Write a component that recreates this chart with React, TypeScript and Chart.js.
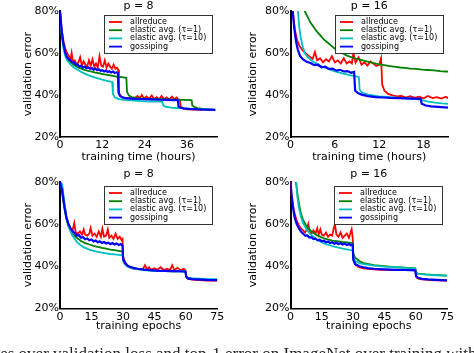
import React, { useEffect, useRef } from 'react';
import { Chart, registerables } from 'chart.js';

Chart.register(...registerables);

const FONT_FAMILY = '"DejaVu Sans", "Bitstream Vera Sans", sans-serif';

const seriesLabels = ['allreduce', 'elastic avg. (τ=1)', 'elastic avg. (τ=10)', 'gossiping'];
const seriesColors = ['#ff0000', '#008000', '#00bfbf', '#0000ff'];
const seriesWidths = [1.8, 1.8, 1.8, 2.2];
const yAxisTitle = 'validation error';

// ---------- top-left: p = 8, training time (hours) ----------
const tlRedX = [0, 0.5, 1, 1.5, 2, 2.5, 3, 3.3, 3.7, 4.2, 4.7, 5.2, 5.7, 6.2, 6.7, 7.2, 7.7, 8.2, 8.7, 9.2, 9.7, 10.2, 10.7, 11.2, 11.7, 12.2, 12.7, 13.2, 13.7, 14.2, 14.7, 15.2, 15.7, 16.2, 16.5, 16.7, 17.2, 18, 19, 20, 21, 22, 22.6, 23.2, 23.8, 24.5, 25.2, 26, 26.7, 27.4, 28.1, 28.8, 29.5, 30.2, 31, 31.7, 32.4, 33, 33.6, 34, 34.2, 35, 36, 38, 40, 42, 44];
const tlRedY = [80, 71, 65.5, 62, 60, 58.5, 57, 60, 55.5, 56.5, 54.5, 55.5, 58, 54, 56, 54.5, 53.5, 56.5, 54, 57, 53.5, 55, 53, 58.5, 54, 53.5, 56.5, 53, 55, 53.5, 52.5, 54.5, 52.5, 53, 52, 41, 39.5, 38.8, 38.5, 38.6, 38.3, 39.5, 38.3, 40, 38.2, 39.3, 38.2, 39.8, 38, 39, 38, 39.5, 38, 38.9, 37.9, 39.2, 37.9, 38.8, 37.8, 37.6, 34.5, 33.5, 33.2, 33, 32.9, 32.9, 32.8];
const tlGreenX = [0, 0.5, 1, 1.5, 2, 3, 4, 5, 6, 7, 8, 9, 10, 11, 12, 13, 14, 15, 16, 17, 18, 18.8, 19, 19.5, 20.3, 21.5, 23, 25, 27, 29, 31, 33, 35, 37.3, 37.5, 38.2, 39, 40.5, 42, 44];
const tlGreenY = [80, 69, 63, 59.5, 57.5, 55.5, 54.3, 53.3, 52.6, 52, 51.5, 51.1, 50.7, 50.4, 50, 49.7, 49.4, 49.1, 48.8, 48.6, 48.4, 48.2, 41.5, 39.8, 39, 38.6, 38.4, 38.2, 38.1, 38, 37.9, 37.8, 37.7, 37.6, 35, 34.2, 33.8, 33.4, 33.1, 32.9];
const tlCyanX = [0, 0.5, 1, 1.5, 2, 3, 4, 5, 6, 7, 8, 9, 10, 11, 12, 13, 14, 14.8, 15, 15.6, 16.5, 18, 20, 22, 24, 26, 28, 29, 29.3, 30, 31.5, 33, 35, 37, 40, 42, 44];
const tlCyanY = [80, 68, 62, 58.5, 56.5, 54.5, 53, 52, 51, 50.2, 49.5, 48.9, 48.3, 47.8, 47.3, 46.9, 46.5, 46.2, 40.5, 38.8, 38.2, 37.7, 37.4, 37.2, 37, 36.9, 36.8, 36.7, 35, 34.4, 34, 33.8, 33.6, 33.4, 33.2, 33.1, 33];
const tlBlueX = [0, 0.5, 1, 1.5, 2, 2.5, 3, 3.5, 4, 4.5, 5, 5.5, 6, 6.5, 7, 7.5, 8, 8.5, 9, 9.5, 10, 10.5, 11, 11.5, 12, 12.5, 13, 13.5, 14, 14.5, 15, 15.5, 16, 16.4, 16.6, 17, 17.6, 18.5, 20, 22, 24, 26, 28, 30, 32, 33.4, 33.6, 34.2, 35, 36.5, 38, 40, 42, 44];
const tlBlueY = [80, 70, 64, 60, 58, 57, 56.5, 55.5, 55.5, 54.5, 54.5, 53.5, 54, 53, 53.5, 52.8, 53.2, 52.5, 52.8, 52, 52.6, 51.8, 52.2, 51.5, 51.8, 51.2, 51.6, 51, 51.3, 50.7, 51.2, 50.5, 50.8, 50.5, 41, 39.6, 38.9, 38.5, 38.3, 38.1, 38, 37.9, 37.8, 37.7, 37.6, 37.5, 34.5, 33.9, 33.6, 33.4, 33.3, 33.1, 33, 32.9];

// ---------- top-right: p = 16, training time (hours) ----------
const trRedX = [0.3, 0.6, 0.9, 1.2, 1.6, 2, 2.5, 3, 3.3, 3.6, 4, 4.4, 4.8, 5.2, 5.6, 6, 6.4, 6.8, 7.2, 7.6, 8, 8.3, 8.5, 8.8, 9.2, 9.6, 10, 10.4, 10.8, 11.2, 11.6, 12, 12.25, 12.4, 12.7, 13.2, 13.8, 14.4, 15, 15.6, 16.2, 16.8, 17.4, 18, 18.6, 19.2, 19.8, 20.4, 21, 21.3];
const trRedY = [80, 71, 66, 63.5, 61.5, 60, 58.5, 57.2, 60.5, 56.5, 57.5, 55.5, 57, 56, 58.5, 55.5, 56.5, 55, 57.5, 55, 56, 55, 60, 55.5, 58, 54.5, 55.5, 54, 56, 55, 53.8, 54.5, 57.5, 45, 42, 40.5, 39.8, 39.3, 39.6, 38.8, 39.4, 38.6, 39.2, 38.4, 39.5, 38.5, 39, 38.3, 39.2, 38.5];
const trGreenX = [1.9, 2.3, 2.7, 3.1, 3.5, 4, 4.5, 5, 5.5, 6, 6.5, 7, 7.5, 8, 8.7, 9.4, 10, 10.7, 11.4, 12, 12.7, 13.4, 14, 14.8, 15.5, 16.2, 17, 17.8, 18.6, 19.4, 20.2, 21, 21.3];
const trGreenY = [80, 77.3, 74.5, 72.5, 70.5, 68.5, 66.5, 65, 63.5, 62, 61, 60, 59, 58.3, 57.5, 56.8, 56.2, 55.6, 55.1, 54.6, 54.2, 53.8, 53.5, 53.1, 52.9, 52.6, 52.4, 52.1, 51.9, 51.7, 51.4, 51.2, 51.1];
const trCyanX = [1.0, 1.2, 1.4, 1.7, 2, 2.5, 3, 4, 5, 6, 7, 8, 9, 9.25, 9.35, 9.7, 10.5, 12, 14, 16, 17.5, 18.5, 19.5, 20.5, 21.3];
const trCyanY = [80, 72, 67, 62.5, 59.5, 57.5, 56, 54, 52.5, 51.3, 50.3, 49.5, 48.8, 48.5, 42.5, 41, 40.2, 39.3, 38.8, 38.4, 37.8, 37, 36.4, 36, 35.8];
const trBlueX = [0.3, 0.5, 0.75, 1, 1.3, 1.7, 2.2, 2.7, 3.2, 3.7, 4.2, 4.7, 5.2, 5.7, 6.2, 6.7, 7.2, 7.7, 8.2, 8.6, 8.75, 9.1, 9.6, 10.5, 11.5, 12.5, 13.5, 14.5, 15.5, 16.5, 17.6, 17.75, 18.3, 19, 20, 21.3];
const trBlueY = [80, 72, 65.5, 61.5, 58.5, 57, 55.8, 55.2, 54.2, 54.4, 53.2, 53.5, 52.4, 52.6, 51.6, 52, 51.2, 51.4, 50.6, 51, 42, 41, 40.2, 39.5, 39, 38.8, 38.6, 38.5, 38.4, 38.3, 38.2, 35.8, 35, 34.6, 34.3, 34];

// ---------- bottom-left: p = 8, training epochs ----------
const blRedX = [0, 1, 2, 3, 4, 5, 6, 6.8, 7.5, 8.5, 9.5, 10.5, 11.3, 12, 13, 14, 14.6, 15.5, 16.5, 17.5, 18.5, 19.5, 20.2, 21, 22, 22.8, 23.5, 24.5, 25.5, 26.5, 27.5, 28.5, 29.3, 29.8, 30.1, 31, 32, 33, 34.5, 36, 38, 39.5, 40.5, 41.5, 42.5, 43.5, 45, 46.5, 48, 49.5, 51, 52.5, 53.5, 54.5, 56, 57.5, 59, 59.8, 60.2, 61, 63, 66, 70, 75];
const blRedY = [80, 78, 70, 63.5, 60, 58, 57, 60.5, 56, 55.5, 56.5, 55, 57.5, 55, 54.5, 55.5, 58.2, 54.5, 55.5, 54, 56.5, 54, 57.8, 54, 54.5, 57.5, 53.5, 54.5, 53, 55.5, 53, 54, 52.5, 53, 44.5, 42, 40.5, 39.5, 39, 38.8, 38.6, 38.5, 40.5, 38.5, 39.5, 38.3, 39, 38.3, 39.5, 38.2, 38.8, 38.2, 40.5, 38.2, 39.2, 38.1, 38.8, 38, 35, 34, 33.6, 33.4, 33.2, 33.2];
const blGreenX = [0, 1, 2, 3, 4, 5, 6, 8, 10, 12, 14, 16, 18, 20, 22, 24, 26, 28, 29.8, 30.1, 31, 32, 33, 35, 37, 40, 43, 46, 50, 54, 57, 59.8, 60.2, 61, 63, 66, 70, 75];
const blGreenY = [80, 75, 68, 62.5, 59, 57, 55.5, 53.5, 52, 51, 50.3, 49.7, 49.2, 48.7, 48.3, 47.9, 47.6, 47.3, 47, 43, 41.3, 40.3, 39.7, 39.1, 38.7, 38.3, 38, 37.8, 37.7, 37.6, 37.5, 37.4, 35, 34.2, 33.9, 33.7, 33.5, 33.4];
const blCyanX = [0, 1, 2, 3, 4, 5, 6, 8, 10, 12, 14, 16, 18, 20, 22, 24, 26, 28, 29.8, 30.1, 31, 32, 33, 35, 37, 40, 43, 46, 50, 54, 57, 59.8, 60.2, 61, 63, 66, 70, 75];
const blCyanY = [80, 79, 71, 64, 59.5, 56.5, 54.5, 51.5, 49.8, 48.7, 47.9, 47.3, 46.8, 46.4, 46.1, 45.8, 45.6, 45.4, 45.2, 42.5, 40.8, 39.9, 39.4, 38.9, 38.5, 38.1, 37.9, 37.8, 37.7, 37.6, 37.6, 37.5, 35.3, 34.6, 34.3, 34.1, 33.9, 33.8];
const blBlueX = [0, 1, 2, 3, 4, 5, 6, 7, 8, 9, 10, 11, 12, 13, 14, 15, 16, 17, 18, 19, 20, 21, 22, 23, 24, 25, 26, 27, 28, 29, 29.8, 30.1, 31, 32, 33, 35, 37, 40, 43, 46, 50, 54, 57, 59.8, 60.2, 61, 63, 66, 70, 75];
const blBlueY = [80, 76, 69, 63.5, 60, 58, 56.5, 55.8, 54.5, 54.8, 53.5, 53.8, 52.8, 53.2, 52.3, 52.7, 51.8, 52.2, 51.4, 51.8, 51, 51.5, 50.8, 51.2, 50.5, 51, 50.3, 50.8, 50.1, 50.5, 49.8, 43.5, 41.5, 40.5, 39.8, 39.2, 38.8, 38.4, 38.1, 37.9, 37.8, 37.7, 37.6, 37.5, 35, 34.2, 33.9, 33.7, 33.5, 33.4];

// ---------- bottom-right: p = 16, training epochs ----------
const brRedX = [0, 0.5, 1, 1.5, 2, 3, 4, 5, 6, 7, 7.8, 8.5, 9.3, 10, 11, 12, 12.8, 13.5, 14.3, 15, 16, 17, 18, 19, 20, 20.7, 21.3, 22, 23, 24, 25, 26, 27, 28, 28.8, 29.3, 29.8, 30.1, 31, 32, 33, 35, 37, 40, 43, 46, 50, 54, 57, 59.8, 60.2, 61, 63, 66, 70, 75];
const brRedY = [80, 74, 70, 67, 65, 61.5, 59.5, 58, 57, 56, 57.5, 60, 56, 55.5, 57, 55.5, 58, 55, 57.5, 55, 54.5, 56, 54, 55, 54.5, 58, 60, 55, 54, 56, 53.5, 54.5, 55.5, 53.5, 56, 57.5, 53.5, 44, 41, 40, 39.4, 39, 38.7, 38.5, 38.3, 38.4, 38.2, 38.4, 38.1, 38.2, 35, 34.2, 33.8, 33.5, 33.3, 33.2];
const brGreenX = [2.6, 3, 3.5, 4, 5, 6, 8, 10, 13, 16, 20, 25, 29.8, 30.1, 31, 33, 35, 40, 45, 50, 55, 59.8, 60.2, 61, 65, 70, 75];
const brGreenY = [80, 77, 73, 70, 65, 62, 58.5, 56.5, 54.5, 53.2, 52.2, 51.5, 51, 46, 44, 42.5, 41.5, 40.5, 40, 39.6, 39.3, 39, 37, 36.5, 36.1, 35.8, 35.5];
const brCyanX = [2.8, 3.3, 4, 5, 6, 8, 10, 13, 16, 20, 25, 29.8, 30.1, 31, 33, 35, 40, 45, 50, 55, 59.8, 60.2, 61, 65, 70, 75];
const brCyanY = [80, 73, 68, 63.5, 60.5, 57, 54.8, 52.3, 50.8, 49.5, 48.3, 47.5, 44.5, 42.5, 41.5, 41, 40.3, 39.8, 39.5, 39.2, 38.8, 36.8, 36.3, 36, 35.7, 35.5];
const brBlueX = [0, 0.5, 1, 1.5, 2, 3, 4, 5, 6, 7, 8, 9, 10, 11, 12, 13, 14, 15, 16, 17, 18, 19, 20, 21, 22, 23, 24, 25, 26, 27, 28, 29, 29.8, 30.1, 31, 33, 35, 37, 40, 45, 50, 55, 59.8, 60.2, 61, 63, 66, 70, 75];
const brBlueY = [80, 74, 70, 66, 63, 60, 58, 56.5, 55.5, 54.5, 54.6, 53.6, 53.8, 52.9, 53.1, 52.3, 52.6, 51.8, 52.1, 51.4, 51.7, 51, 51.4, 50.7, 51.1, 50.5, 50.9, 50.3, 50.7, 50.1, 50.5, 49.9, 50.2, 43, 41, 40, 39.5, 39.1, 38.8, 38.5, 38.3, 38.2, 38, 35.3, 34.5, 34, 33.7, 33.5, 33.3];

const captionText = 'curves over validation loss and top-1 error on ImageNet over training with';

type Area = { l: number; t: number; r: number; b: number };
type PanelCfg = {
  key: string;
  left: number;
  top: number;
  w: number;
  h: number;
  area: Area;
  xMax: number;
  xStep: number;
  xTitle: string;
  title: string;
  titleY: number;
  xTitleY: number;
  yTitleX: number;
  series: number[][][];
};

const panels: PanelCfg[] = [
  {
    key: 'tl', left: 0, top: 0, w: 237, h: 170,
    area: { l: 60, t: 11, r: 217, b: 137 },
    xMax: 44.5, xStep: 12, xTitle: 'training time (hours)', title: 'p = 8',
    titleY: 6, xTitleY: 157, yTitleX: 28.5,
    series: [[tlRedX, tlRedY], [tlGreenX, tlGreenY], [tlCyanX, tlCyanY], [tlBlueX, tlBlueY]],
  },
  {
    key: 'tr', left: 237, top: 0, w: 237, h: 170,
    area: { l: 53.5, t: 11, r: 211, b: 137 },
    xMax: 21.3, xStep: 6, xTitle: 'training time (hours)', title: 'p = 16',
    titleY: 6, xTitleY: 157, yTitleX: 16.5,
    series: [[trRedX, trRedY], [trGreenX, trGreenY], [trCyanX, trCyanY], [trBlueX, trBlueY]],
  },
  {
    key: 'bl', left: 0, top: 168, w: 237, h: 172,
    area: { l: 60, t: 14, r: 217.3, b: 140.3 },
    xMax: 75, xStep: 15, xTitle: 'training epochs', title: 'p = 8',
    titleY: 6, xTitleY: 158, yTitleX: 28.5,
    series: [[blRedX, blRedY], [blGreenX, blGreenY], [blCyanX, blCyanY], [blBlueX, blBlueY]],
  },
  {
    key: 'br', left: 237, top: 168, w: 237, h: 172,
    area: { l: 53.5, t: 14, r: 210, b: 140.3 },
    xMax: 75, xStep: 15, xTitle: 'training epochs', title: 'p = 16',
    titleY: 6, xTitleY: 158, yTitleX: 16.5,
    series: [[brRedX, brRedY], [brGreenX, brGreenY], [brCyanX, brCyanY], [brBlueX, brBlueY]],
  },
];

const decorPlugin = {
  id: 'decor',
  afterDraw(chart: any, _args: any, opts: any) {
    const { ctx, chartArea } = chart;
    ctx.save();
    // title
    ctx.font = `11px ${FONT_FAMILY}`;
    ctx.fillStyle = '#000';
    ctx.textAlign = 'center';
    ctx.textBaseline = 'middle';
    ctx.fillText(opts.title, (chartArea.left + chartArea.right) / 2, opts.titleY);
    // legend box
    const bw = 108;
    const bh = 38;
    const bx = Math.round(chartArea.right - 5 - bw);
    const by = Math.round(chartArea.top + 4);
    ctx.fillStyle = '#ffffff';
    ctx.fillRect(bx, by, bw, bh);
    ctx.strokeStyle = '#333333';
    ctx.lineWidth = 1;
    ctx.strokeRect(bx + 0.5, by + 0.5, bw, bh);
    ctx.font = `8px ${FONT_FAMILY}`;
    ctx.textAlign = 'left';
    ctx.textBaseline = 'middle';
    seriesLabels.forEach((label, i) => {
      const y = by + 7 + i * 8.2;
      ctx.strokeStyle = seriesColors[i];
      ctx.lineWidth = 1.8;
      ctx.beginPath();
      ctx.moveTo(bx + 5, y);
      ctx.lineTo(bx + 18, y);
      ctx.stroke();
      ctx.fillStyle = '#000';
      ctx.fillText(label, bx + 26, y);
    });
    ctx.restore();
  },
};

function Panel({ cfg }: { cfg: PanelCfg }) {
  const ref = useRef<HTMLCanvasElement | null>(null);
  useEffect(() => {
    if (!ref.current) return;
    const font = { family: FONT_FAMILY, size: 11 };
    const lh = 11 * 1.2;
    const datasets = cfg.series.map((s, i) => ({
      label: seriesLabels[i],
      data: s[0].map((x, j) => ({ x, y: s[1][j] })),
      borderColor: seriesColors[i],
      backgroundColor: seriesColors[i],
      borderWidth: seriesWidths[i],
      pointRadius: 0,
      tension: 0,
      fill: false,
      order: 3 - i,
    }));
    const chart = new Chart(ref.current, {
      type: 'line',
      data: { datasets },
      plugins: [decorPlugin],
      options: {
        animation: false,
        responsive: false,
        events: [],
        layout: {
          padding: { left: 0, top: cfg.area.t, right: cfg.w - cfg.area.r, bottom: 0 },
        },
        plugins: {
          legend: { display: false },
          tooltip: { enabled: false },
          decor: { title: cfg.title, titleY: cfg.titleY },
        } as any,
        scales: {
          x: {
            type: 'linear',
            min: 0,
            max: cfg.xMax,
            grid: { display: false, drawTicks: false },
            border: { display: true, color: '#000', width: 1.5 },
            ticks: {
              stepSize: cfg.xStep,
              includeBounds: false,
              autoSkip: false,
              maxRotation: 0,
              padding: 2,
              color: '#000',
              font,
            },
            title: {
              display: true,
              text: cfg.xTitle,
              color: '#000',
              font,
              padding: { top: 0, bottom: cfg.h - cfg.xTitleY - lh / 2 },
            },
            afterFit: (scale: any) => {
              scale.height = cfg.h - cfg.area.b;
            },
          },
          y: {
            type: 'linear',
            min: 20,
            max: 80,
            grid: { display: false, drawTicks: false },
            border: { display: true, color: '#000', width: 2 },
            ticks: {
              stepSize: 20,
              padding: 1,
              color: '#000',
              font,
              callback: (v: any) => `${v}%`,
            },
            title: {
              display: true,
              text: yAxisTitle,
              color: '#000',
              font,
              padding: { top: cfg.yTitleX - lh / 2, bottom: 0 },
            },
            afterFit: (scale: any) => {
              scale.width = cfg.area.l;
            },
          },
        },
      } as any,
    });
    return () => chart.destroy();
  }, [cfg]);
  return (
    <canvas
      ref={ref}
      width={cfg.w}
      height={cfg.h}
      style={{ position: 'absolute', left: cfg.left, top: cfg.top, width: cfg.w, height: cfg.h }}
    />
  );
}

export default function App() {
  return (
    <div
      style={{
        position: 'fixed',
        left: 0,
        top: 0,
        width: 474,
        height: 353,
        overflow: 'hidden',
        background: '#fff',
      }}
    >
      {panels.map((p) => (
        <Panel key={p.key} cfg={p} />
      ))}
      <div
        style={{
          position: 'absolute',
          left: -30,
          top: 345,
          fontFamily: '"Liberation Serif", "Times New Roman", serif',
          fontSize: 17,
          lineHeight: '17px',
          whiteSpace: 'nowrap',
          color: '#222',
        }}
      >
        {captionText}
      </div>
    </div>
  );
}
